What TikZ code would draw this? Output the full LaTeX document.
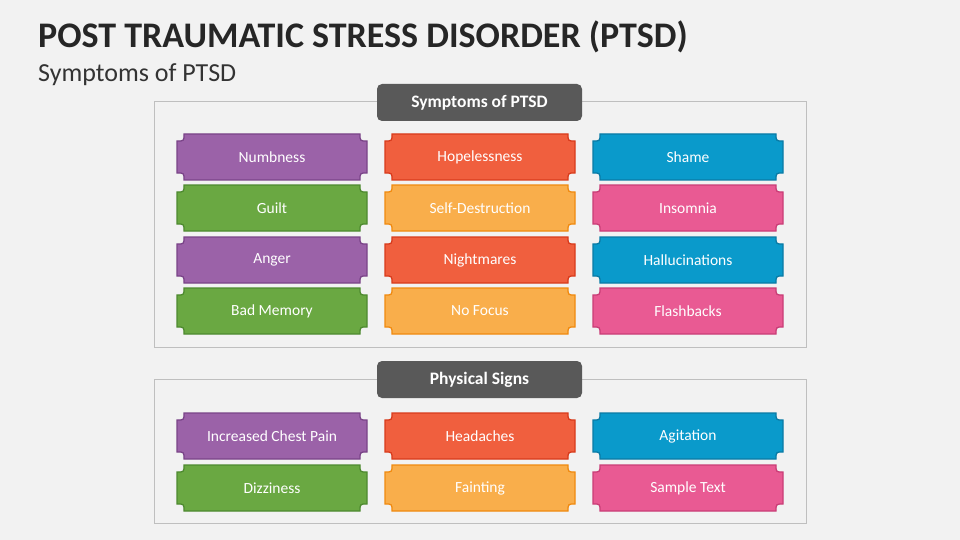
\documentclass[tikz,border=0pt]{standalone}
\usepackage{fontspec}
\setmainfont{Carlito}
\definecolor{bg}{HTML}{F2F2F2}
\definecolor{pu}{HTML}{9B62A8}\definecolor{puS}{HTML}{7A4488}
\definecolor{rd}{HTML}{F05F3E}\definecolor{rdS}{HTML}{D83B1C}
\definecolor{bl}{HTML}{0A9ACB}\definecolor{blS}{HTML}{0A7BA5}
\definecolor{gr}{HTML}{6AA842}\definecolor{grS}{HTML}{4E8A30}
\definecolor{or}{HTML}{F9AE4B}\definecolor{orS}{HTML}{F08A10}
\definecolor{pk}{HTML}{E95A93}\definecolor{pkS}{HTML}{C93E77}
\definecolor{hd}{HTML}{595959}
\newcommand\mytile[5]{% name, x1, ycenter, color, text
\fill[#4,draw=#4S,line width=1.3pt]
 ({#2+7},{#3-23}) -- ({#2+183},{#3-23}) .. controls ({#2+183},{#3-16}) .. ({#2+190},{#3-16})
 -- ({#2+190},{#3+16}) .. controls ({#2+183},{#3+16}) .. ({#2+183},{#3+23})
 -- ({#2+7},{#3+23}) .. controls ({#2+7},{#3+16}) .. ({#2},{#3+16})
 -- ({#2},{#3-16}) .. controls ({#2+7},{#3-16}) .. ({#2+7},{#3-23}) -- cycle;
\node[tiletxt] (#1) at ({#2+95},#3) {#5};}
\begin{document}
\begin{tikzpicture}[x=1pt,y=-1pt,
 tiletxt/.style={text=white,font=\fontsize{15.5}{18}\selectfont},
 panel/.style={draw=black!25,line width=1pt},
 hdr/.style={fill=hd,rounded corners=5pt,text=white,font=\bfseries\fontsize{17.5}{20}\selectfont,minimum width=205pt,minimum height=37pt,inner sep=0pt}]
\fill[bg] (0,0) rectangle (960,540);
\useasboundingbox (0,0) rectangle (960,540);
\node[anchor=west,inner sep=0pt,font=\bfseries\fontsize{36}{40}\selectfont,text=black!85] (title) at (38,37) {POST TRAUMATIC STRESS DISORDER (PTSD)};
\node[anchor=west,inner sep=0pt,font=\fontsize{26}{30}\selectfont,text=black!80] (sub) at (38,75) {Symptoms of PTSD};
\draw[panel] (154,102) rectangle (806,347);
\draw[panel] (154,379) rectangle (806,523);
\node[hdr] (h1) at (479.5,102.5) {Symptoms of PTSD};
\node[hdr] (h2) at (479.5,379.5) {Physical Signs};
\mytile{t1}{177}{157}{pu}{Numbness}
\mytile{t2}{385}{157}{rd}{Hopelessness}
\mytile{t3}{593}{157}{bl}{Shame}
\mytile{t4}{177}{208}{gr}{Guilt}
\mytile{t5}{385}{208}{or}{Self-Destruction}
\mytile{t6}{593}{208}{pk}{Insomnia}
\mytile{t7}{177}{260}{pu}{Anger}
\mytile{t8}{385}{260}{rd}{Nightmares}
\mytile{t9}{593}{260}{bl}{Hallucinations}
\mytile{t10}{177}{311}{gr}{Bad Memory}
\mytile{t11}{385}{311}{or}{No Focus}
\mytile{t12}{593}{311}{pk}{Flashbacks}
\mytile{t13}{177}{436}{pu}{Increased Chest Pain}
\mytile{t14}{385}{436}{rd}{Headaches}
\mytile{t15}{593}{436}{bl}{Agitation}
\mytile{t16}{177}{488}{gr}{Dizziness}
\mytile{t17}{385}{488}{or}{Fainting}
\mytile{t18}{593}{488}{pk}{Sample Text}
\end{tikzpicture}
\end{document}
